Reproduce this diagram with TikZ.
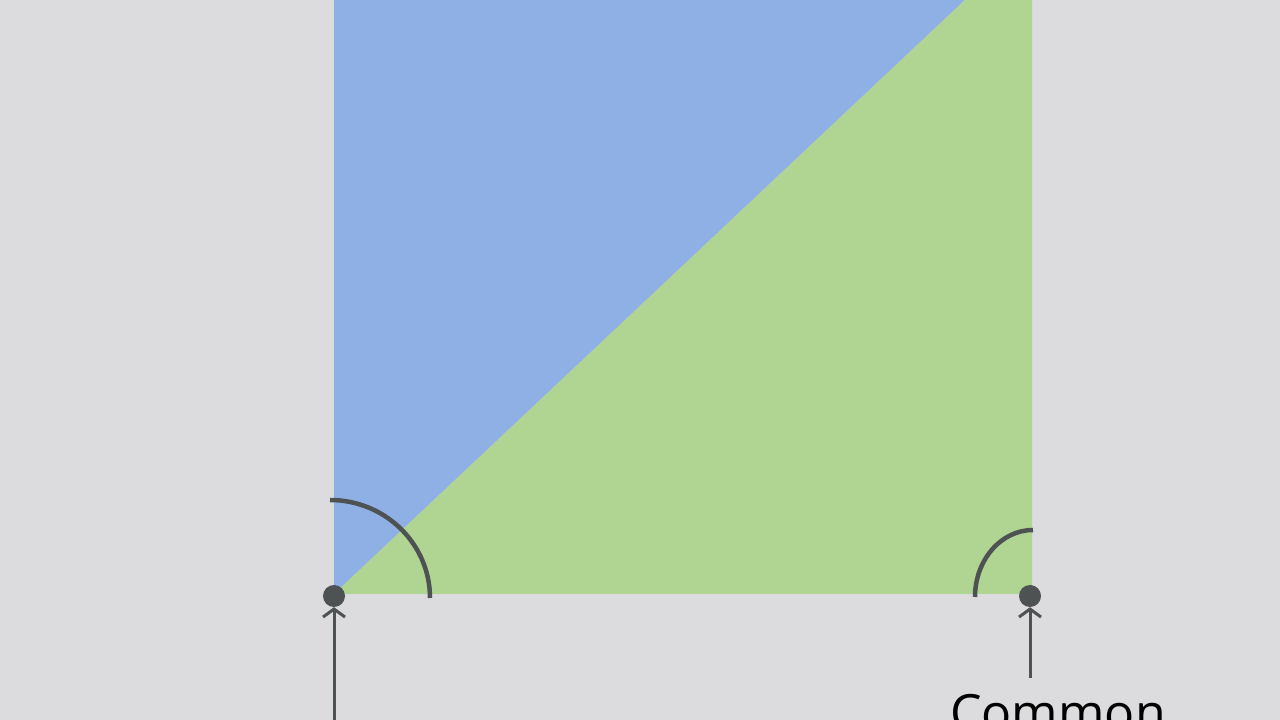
\documentclass[tikz,border=0pt]{standalone}
\usepackage{fontspec}
\setmainfont{Open Sans}
\usetikzlibrary{arrows.meta}
\definecolor{bg}{RGB}{220,220,222}
\definecolor{bluef}{RGB}{142,176,228}
\definecolor{greenf}{RGB}{176,212,146}
\definecolor{ink}{RGB}{78,82,82}
\tikzset{
  dotnode/.style={circle,fill=ink,inner sep=0pt,minimum size=22pt},
  arcline/.style={draw=ink,line width=4.5pt},
  uparrow/.style={draw=ink,line width=3pt,-{Straight Barb[length=8pt,width=22pt,line width=3pt]}},
  lbl/.style={font=\fontsize{50}{60}\selectfont,text=black,inner sep=0pt}
}
\begin{document}
\begin{tikzpicture}[x=1pt,y=1pt]
\useasboundingbox (0,0) rectangle (1280,720);
\fill[bg] (0,0) rectangle (1280,720);
% halves of the square
\fill[bluef] (334,126) -- (334,720) -- (965,720) -- cycle;
\fill[greenf] (334,126) -- (1032,126) -- (1032,720) -- (965,720) -- cycle;
% angle arcs
\draw[arcline] (330,220) arc[start angle=90,end angle=0,x radius=100,y radius=98];
\draw[arcline] (975,123) arc[start angle=180,end angle=90,x radius=58,y radius=67];
% corner dots
\node[dotnode] (dl) at (334,124) {};
\node[dotnode] (dr) at (1030,124) {};
% arrows
\coordinate (al) at (334,0);
\coordinate (ar) at (1030,42);
\draw[uparrow] (al) -- (dl.south);
\draw[uparrow] (ar) -- (dr.south);
% label
\node[lbl,anchor=base] (common) at (1058,-11) {Common};
\end{tikzpicture}
\end{document}
